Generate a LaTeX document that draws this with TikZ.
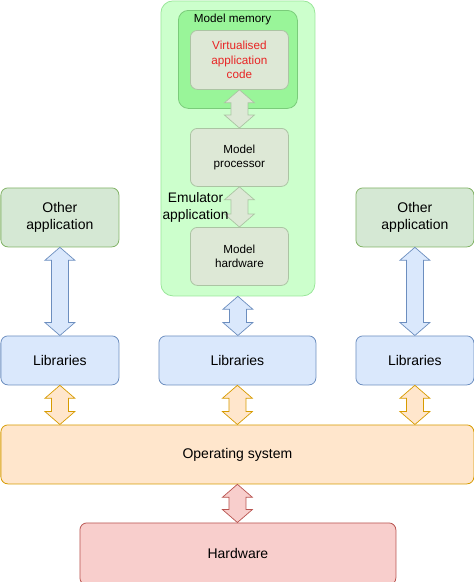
\documentclass[tikz,border=0pt]{standalone}
\usepackage{fontspec}
\setmainfont{Liberation Sans}
\usetikzlibrary{calc}
\definecolor{emufill}{HTML}{CCFFCC}
\definecolor{emudraw}{HTML}{9AE69A}
\definecolor{memfill}{HTML}{99F599}
\definecolor{memdraw}{HTML}{7ACC7A}
\definecolor{grayfill}{HTML}{DDE8D6}
\definecolor{graydraw}{HTML}{ABC4A3}
\definecolor{grnfill}{HTML}{D5E8D4}
\definecolor{grndraw}{HTML}{82B366}
\definecolor{blufill}{HTML}{DAE8FC}
\definecolor{bludraw}{HTML}{6C8EBF}
\definecolor{orgfill}{HTML}{FFE6CC}
\definecolor{orgdraw}{HTML}{D79B00}
\definecolor{redfill}{HTML}{F8CECC}
\definecolor{reddraw}{HTML}{B85450}
\definecolor{txtred}{HTML}{E82424}
\newcommand\dblarr[3]{%
  \path[#3] let \p1=(#1), \p2=(#2) in
    (\x1,\y1) -- ++(15pt,-13pt) -- ++(-6.5pt,0pt) -- (\x1+8.5pt,\y2+13pt) -- ++(6.5pt,0pt)
    -- (\x1,\y2) -- ++(-15pt,13pt) -- ++(6.5pt,0pt) -- (\x1-8.5pt,\y1-13pt) -- ++(-6.5pt,0pt) -- cycle;}
\begin{document}
\begin{tikzpicture}[x=1pt,y=1pt,
  box/.style={rectangle,rounded corners=7pt,line width=0.8pt,inner sep=0pt,align=center,font=\fontsize{14}{17.5}\selectfont},
  sbox/.style={box,font=\fontsize{11.7}{14.5}\selectfont},
  arr/.style={line width=0.7pt,line join=miter}]
\useasboundingbox (0,0) rectangle (474,-582);
% emulator
\node[box,rounded corners=12pt,fill=emufill,draw=emudraw,minimum width=154,minimum height=295,anchor=north west] (emu) at (160.5,-0.5) {};
\node[box,rounded corners=10pt,fill=memfill,draw=memdraw,minimum width=119,minimum height=98,anchor=north west] (mem) at (178,-10) {};
\node[sbox,anchor=center] (memlbl) at (232.5,-19) {Model memory};
\node[sbox,fill=grayfill,draw=graydraw,minimum width=98,minimum height=59,anchor=north west,text=txtred] (virt) at (190,-30) {Virtualised\\application\\code};
\node[sbox,fill=grayfill,draw=graydraw,minimum width=98,minimum height=58,anchor=north west] (proc) at (190,-128) {Model\\processor};
\node[sbox,fill=grayfill,draw=graydraw,minimum width=98,minimum height=58,anchor=north west] (hw) at (190,-227) {Model\\hardware};
% others
\node[box,fill=grnfill,draw=grndraw,minimum width=118,minimum height=59,anchor=north west] (oa1) at (0.5,-187.5) {Other\\application};
\node[box,fill=grnfill,draw=grndraw,minimum width=118,minimum height=59,anchor=north west] (oa2) at (355.5,-187.5) {Other\\application};
\node[box,fill=blufill,draw=bludraw,minimum width=118,minimum height=49,anchor=north west] (lib1) at (0.5,-335.5) {Libraries};
\node[box,fill=blufill,draw=bludraw,minimum width=157,minimum height=49,anchor=north west] (lib2) at (158.5,-335.5) {Libraries};
\node[box,fill=blufill,draw=bludraw,minimum width=118,minimum height=49,anchor=north west] (lib3) at (355.5,-335.5) {Libraries};
\node[box,fill=orgfill,draw=orgdraw,minimum width=473,minimum height=59,anchor=north west] (os) at (0.5,-424.5) {Operating system};
\node[box,fill=redfill,draw=reddraw,minimum width=316,minimum height=62,anchor=north west] (hwr) at (79.5,-522.5) {Hardware};
% arrows
\dblarr{virt.south}{proc.north}{arr,fill=grayfill,draw=graydraw}
\dblarr{proc.south}{hw.north}{arr,fill=grayfill,draw=graydraw}
\dblarr{oa1.south}{lib1.north}{arr,fill=blufill,draw=bludraw}
\dblarr{emu.south}{lib2.north}{arr,fill=blufill,draw=bludraw}
\dblarr{oa2.south}{lib3.north}{arr,fill=blufill,draw=bludraw}
\dblarr{lib1.south}{lib1.south |- os.north}{arr,fill=orgfill,draw=orgdraw}
\dblarr{lib2.south}{lib2.south |- os.north}{arr,fill=orgfill,draw=orgdraw}
\dblarr{lib3.south}{lib3.south |- os.north}{arr,fill=orgfill,draw=orgdraw}
\dblarr{os.south}{hwr.north}{arr,fill=redfill,draw=reddraw}
\node[box,anchor=center,font=\fontsize{13.8}{16.5}\selectfont] (emulbl) at (195.5,-207.5) {Emulator\\application};
\end{tikzpicture}
\end{document}
